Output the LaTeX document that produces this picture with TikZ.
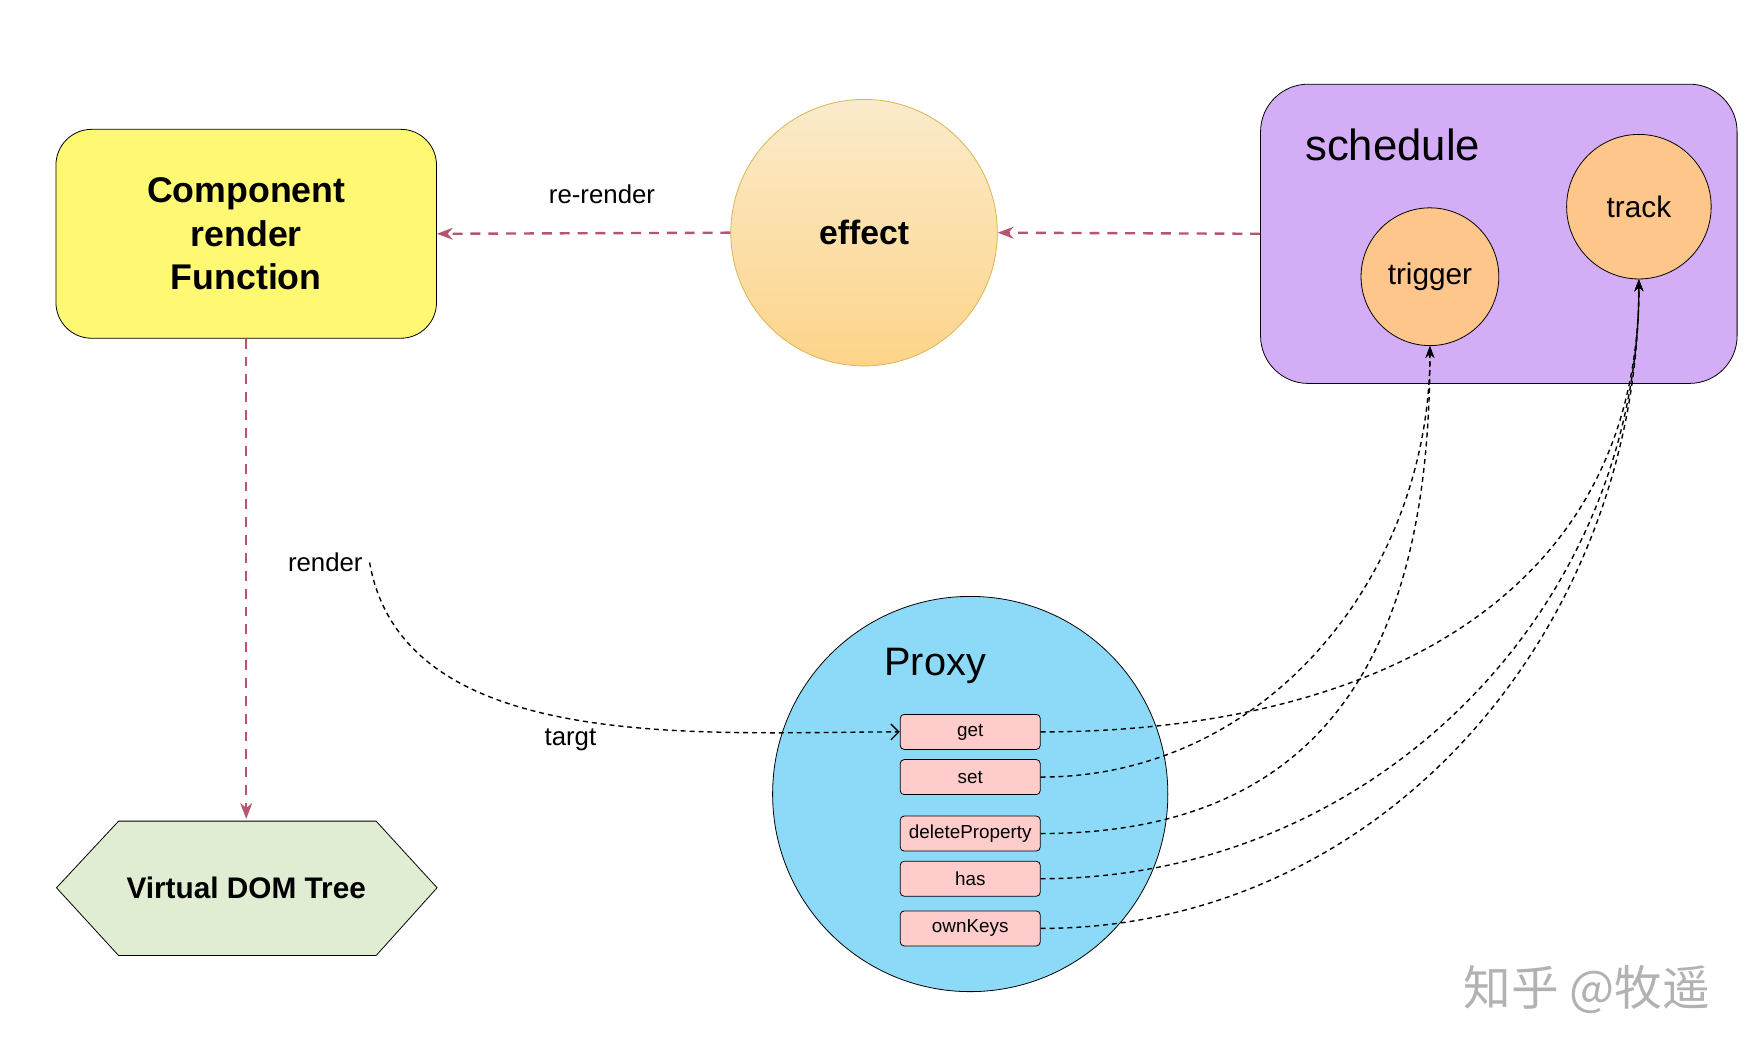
\documentclass[tikz,border=0pt]{standalone}
\usepackage{fontspec}
\setmainfont{Liberation Sans}
\newfontfamily\cjk{Noto Sans CJK SC}
\usetikzlibrary{calc, positioning, arrows.meta, shapes}
\definecolor{flowred}{HTML}{B5566C}
\definecolor{schedpurple}{HTML}{D3ADF5}
\definecolor{domgreen}{HTML}{E1EDD3}
\definecolor{effborder}{HTML}{D6B656}
\definecolor{efftop}{HTML}{FBEBCB}
\definecolor{effbot}{HTML}{FDD48A}

\begin{document}
\begin{tikzpicture}[x=0.02cm, y=-0.02cm,
  redflow/.style={draw=flowred, line width=1.2pt, dash pattern=on 5pt off 4pt, -{Stealth[length=8pt]}},
  dot/.style={line width=0.7pt, dash pattern=on 2.5pt off 2pt, -{Stealth[length=6pt]}},
  trap/.style={draw, rounded corners=2pt, fill=red!20, minimum width=2.48cm, minimum height=0.62cm, inner sep=0pt, font=\fontsize{9.5}{10}\selectfont},
  ball/.style={circle, draw, fill=orange!45, font=\fontsize{15}{16}\selectfont}]
  \useasboundingbox (0,0) rectangle (1560,935);

  \node[draw, rounded corners=18pt, fill=yellow!55, minimum width=6.74cm, minimum height=3.7cm, align=center, font=\fontsize{18}{22}\selectfont\bfseries] (comp) at (218,207) {Component\\render\\Function};
  \node[circle, draw=effborder, top color=efftop, bottom color=effbot, minimum size=4.72cm, font=\fontsize{17}{20}\selectfont\bfseries] (effect) at (765,206) {effect};
  \node[draw, rounded corners=24pt, fill=schedpurple, minimum width=8.44cm, minimum height=5.3cm] (sched) at (1327,207) {};
  \node[font=\fontsize{22}{24}\selectfont] at (1233,128) {schedule};
  \node[ball, minimum size=2.44cm] (trigger) at (1266,245) {trigger};
  \node[ball, minimum size=2.56cm] (track) at (1451,183) {track};

  % hexagon
  \draw[fill=domgreen] (50,786) -- (105,727) -- (333,727) -- (387,786) -- (333,846) -- (105,846) -- cycle;
  \coordinate (vdomtop) at (218,725);
  \node[font=\fontsize{15}{16}\selectfont\bfseries] (vdom) at (218,786) {Virtual DOM Tree};

  \node[circle, draw, fill=cyan!45, minimum size=7cm] (proxy) at (859,703) {};
  \node[font=\fontsize{20}{22}\selectfont] at (828,590) {Proxy};
  \node[trap] (get) at (859,648) {get};
  \node[trap] (set) at (859,688) {set};
  \node[trap] (del) at (859,738) {deleteProperty};
  \node[trap] (has) at (859,778) {has};
  \node[trap] (keys) at (859,822) {ownKeys};

  \node[font=\fontsize{13}{14}\selectfont] (render) at (288,498) {render};
  \node[font=\fontsize{13}{14}\selectfont] at (533,172) {re-render};
  \node[font=\fontsize{13}{14}\selectfont] at (505,655) {targt};
  \node[font=\cjk\fontsize{24}{26}\selectfont, text=black!30] at (1405,876) {知乎 @牧遥};

  \draw[redflow] (sched.west) -- (effect.east);
  \draw[redflow] (effect.west) -- (comp.east);
  \draw[redflow] (comp.south) -- (vdomtop);

  \draw[dot, -{Straight Barb[length=4pt]}] (render.east) to[out=-80, in=180, looseness=0.9] (get.west);
  \draw[dot] (get.east) to[out=0, in=-90, looseness=1.1] (track.south);
  \draw[dot] (set.east) to[out=0, in=-90, looseness=1.0] (trigger.south);
  \draw[dot] (del.east) to[out=0, in=-90, looseness=1.2] (trigger.south);
  \draw[dot] (has.east) to[out=0, in=-90, looseness=1.0] (track.south);
  \draw[dot] (keys.east) to[out=0, in=-90, looseness=1.0] (track.south);
\end{tikzpicture}
\end{document}
